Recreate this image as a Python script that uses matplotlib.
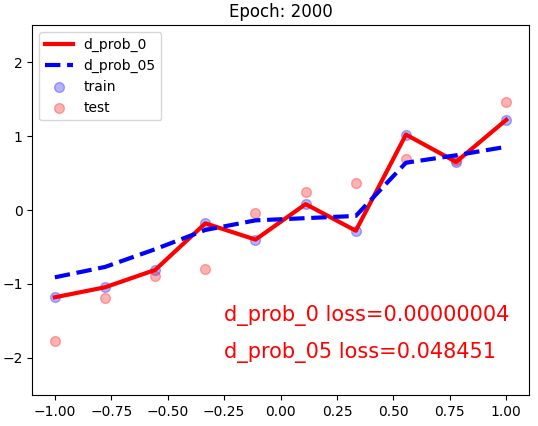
import numpy as np
import matplotlib
matplotlib.use("Agg")
import matplotlib.pyplot as plt

x = np.linspace(-1, 1, 10)
train_y = [-1.18, -1.045, -0.81, -0.18, -0.40, 0.08, -0.28, 1.02, 0.65, 1.22]
test_y = [-1.77, -1.19, -0.89, -0.80, -0.04, 0.24, 0.36, 0.685, 0.67, 1.455]
pred_0 = train_y
pred_05 = [-0.91, -0.77, -0.53, -0.27, -0.14, -0.11, -0.08, 0.64, 0.74, 0.855]
loss_0 = "0.00000004"
loss_05 = "0.048451"

fig = plt.figure(figsize=(5.38, 4.26), dpi=100)
ax = fig.add_subplot(111)
fig.subplots_adjust(left=0.06, right=0.983, top=0.941, bottom=0.073)

# lines first so the legend lists them on top
ax.plot(x, pred_0, 'r-', lw=3, label='d_prob_0')
ax.plot(x, pred_05, 'b--', lw=3, label='d_prob_05')
ax.scatter(x, train_y, c='b', s=50, alpha=0.3, label='train')
ax.scatter(x, test_y, c='r', s=50, alpha=0.3, label='test')

ax.text(-0.25, -1.5, 'd_prob_0 loss=' + loss_0, fontdict={'size': 15, 'color': 'red'})
ax.text(-0.25, -2.0, 'd_prob_05 loss=' + loss_05, fontdict={'size': 15, 'color': 'red'})

ax.legend(loc='upper left')
ax.set_ylim(-2.5, 2.5)
ax.set_xlim(-1.1, 1.1)
ax.set_title('Epoch: 2000')

fig.savefig('out.png', dpi=100)
